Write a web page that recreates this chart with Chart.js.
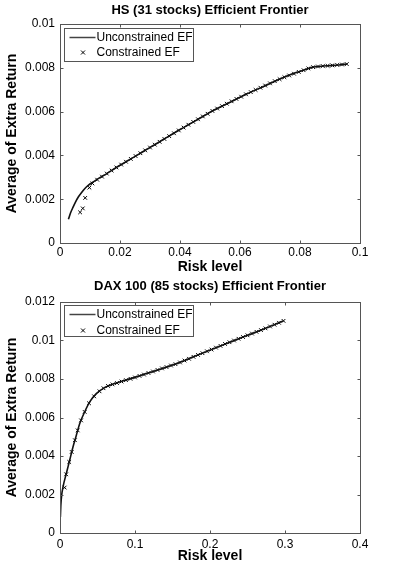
<!DOCTYPE html>
<html><head><meta charset="utf-8">
<script src="https://cdn.jsdelivr.net/npm/chart.js@4.4.1/dist/chart.umd.min.js"></script>
<style>
html,body{margin:0;padding:0;background:#fff;}
#wrap{position:relative;width:396px;height:566px;overflow:hidden;background:#fff;}
canvas{position:absolute;left:0;}
</style></head><body>
<div id="wrap">
<canvas id="c1" width="396" height="280" style="top:0px"></canvas>
<canvas id="c2" width="396" height="286" style="top:280px"></canvas>
</div>
<script>
const FONT = "'Liberation Sans', Arial, Helvetica, sans-serif";
const seriesNames = ['Unconstrained EF', 'Constrained EF'];
const xAxisTitle = 'Risk level';
const yAxisTitle = 'Average of Extra Return';

// ---- HS chart ----
const hsTitle = 'HS (31 stocks) Efficient Frontier';
const hsXTicks = [0, 0.02, 0.04, 0.06, 0.08, 0.1];
const hsXTickLabels = ['0', '0.02', '0.04', '0.06', '0.08', '0.1'];
const hsYTicks = [0, 0.002, 0.004, 0.006, 0.008, 0.01];
const hsYTickLabels = ['0', '0.002', '0.004', '0.006', '0.008', '0.01'];
const hsUnconRisk = [0.0028,0.0035,0.0044,0.0052,0.0061,0.0072,0.0083,0.0095,0.0111,0.0130,0.0156,0.0180,0.0200,0.0230,0.0256,0.0280,0.0311,0.0340,0.0367,0.0400,0.0428,0.0460,0.0511,0.0560,0.0622,0.0680,0.0733,0.0780,0.0822,0.0844,0.0870,0.0900,0.0930,0.0956];
const hsUnconReturn = [0.00108,0.00137,0.00165,0.00188,0.00210,0.00231,0.00249,0.00264,0.00279,0.00296,0.00317,0.00338,0.00355,0.00379,0.00400,0.00420,0.00445,0.00469,0.00491,0.00518,0.00540,0.00565,0.00605,0.00638,0.00680,0.00716,0.00749,0.00775,0.00794,0.00803,0.00807,0.00810,0.00813,0.00817];
const hsConRisk = [0.0067,0.0076,0.0084,0.0098,0.0108,0.0124,0.0140,0.0156,0.0172,0.0188,0.0204,0.0220,0.0236,0.0252,0.0268,0.0284,0.0300,0.0316,0.0332,0.0348,0.0364,0.0380,0.0396,0.0412,0.0428,0.0444,0.0460,0.0476,0.0492,0.0508,0.0524,0.0540,0.0556,0.0572,0.0588,0.0604,0.0620,0.0636,0.0652,0.0668,0.0684,0.0700,0.0716,0.0732,0.0748,0.0764,0.0780,0.0796,0.0812,0.0828,0.0844,0.0860,0.0876,0.0892,0.0908,0.0924,0.0940,0.0956];
const hsConReturn = [0.00140,0.00158,0.00206,0.00253,0.00272,0.00289,0.00303,0.00317,0.00331,0.00345,0.00358,0.00371,0.00384,0.00397,0.00410,0.00423,0.00436,0.00449,0.00462,0.00475,0.00488,0.00501,0.00514,0.00527,0.00540,0.00553,0.00565,0.00578,0.00590,0.00603,0.00614,0.00625,0.00636,0.00647,0.00658,0.00668,0.00679,0.00689,0.00699,0.00709,0.00719,0.00729,0.00739,0.00748,0.00757,0.00765,0.00773,0.00781,0.00789,0.00797,0.00803,0.00806,0.00808,0.00809,0.00811,0.00813,0.00815,0.00817];

// ---- DAX chart ----
const daxTitle = 'DAX 100 (85 stocks) Efficient Frontier';
const daxXTicks = [0, 0.1, 0.2, 0.3, 0.4];
const daxXTickLabels = ['0', '0.1', '0.2', '0.3', '0.4'];
const daxYTicks = [0, 0.002, 0.004, 0.006, 0.008, 0.01, 0.012];
const daxYTickLabels = ['0', '0.002', '0.004', '0.006', '0.008', '0.01', '0.012'];
const daxUnconRisk = [0.0005,0.0012,0.0022,0.0040,0.0084,0.0129,0.0173,0.0218,0.0262,0.0329,0.0396,0.0484,0.0596,0.0729,0.0907,0.1084,0.1262,0.1560,0.1778,0.2000,0.2222,0.2440,0.2667,0.2820,0.2978];
const daxUnconReturn = [0.00083,0.00150,0.00195,0.00239,0.00309,0.00378,0.00447,0.00508,0.00568,0.00629,0.00681,0.00724,0.00755,0.00776,0.00798,0.00819,0.00842,0.00880,0.00915,0.00950,0.00985,0.01018,0.01052,0.01076,0.01102];
const daxConRisk = [0.0062,0.0082,0.0123,0.0156,0.0199,0.0236,0.0281,0.0329,0.0387,0.0455,0.0527,0.058,0.064,0.070,0.076,0.082,0.088,0.094,0.100,0.106,0.112,0.118,0.124,0.130,0.136,0.142,0.148,0.154,0.160,0.166,0.172,0.178,0.184,0.190,0.196,0.202,0.208,0.214,0.220,0.226,0.232,0.238,0.244,0.250,0.256,0.262,0.268,0.274,0.280,0.286,0.292,0.298];
const daxConReturn = [0.00236,0.00305,0.00369,0.00421,0.00482,0.00533,0.00585,0.00629,0.00674,0.00710,0.00736,0.00752,0.00764,0.00772,0.00779,0.00787,0.00794,0.00801,0.00808,0.00816,0.00823,0.00831,0.00839,0.00847,0.00855,0.00862,0.00870,0.00877,0.00886,0.00896,0.00905,0.00915,0.00925,0.00934,0.00944,0.00953,0.00963,0.00972,0.00982,0.00991,0.01000,0.01009,0.01018,0.01027,0.01036,0.01045,0.01054,0.01063,0.01073,0.01082,0.01092,0.01102];

const zip = (xs, ys) => xs.map((x, i) => ({x, y: ys[i]}));

const frameTicks = {
  id: 'frameTicks',
  afterDraw(chart) {
    const {ctx, chartArea: a, scales} = chart;
    const L = Math.round(a.left) + 0.5, R = Math.round(a.right) + 0.5;
    const T = Math.round(a.top) + 0.5, B = Math.round(a.bottom) + 0.5;
    ctx.save();
    ctx.strokeStyle = '#555';
    ctx.lineWidth = 1;
    ctx.strokeRect(L, T, R - L, B - T);
    const len = 3;
    ctx.beginPath();
    scales.x.ticks.forEach(t => {
      const px = Math.round(scales.x.getPixelForValue(t.value)) + 0.5;
      ctx.moveTo(px, B); ctx.lineTo(px, B - len);
      ctx.moveTo(px, T); ctx.lineTo(px, T + len);
    });
    scales.y.ticks.forEach(t => {
      const py = Math.round(scales.y.getPixelForValue(t.value)) + 0.5;
      ctx.moveTo(L, py); ctx.lineTo(L + len, py);
      ctx.moveTo(R, py); ctx.lineTo(R - len, py);
    });
    ctx.stroke();
    ctx.restore();
  }
};

const boxLegend = {
  id: 'boxLegend',
  afterDraw(chart, args, opts) {
    const {ctx, chartArea: a} = chart;
    const ds = chart.data.datasets;
    const bx = Math.round(a.left) + 4.5, by = Math.round(a.top) + opts.dy + 0.5;
    const bw = 129, bh = opts.h;
    ctx.save();
    ctx.fillStyle = '#fff';
    ctx.fillRect(bx, by, bw, bh);
    ctx.strokeStyle = '#555';
    ctx.lineWidth = 1;
    ctx.strokeRect(bx, by, bw, bh);
    const r1 = by + opts.r1, r2 = by + opts.r2;
    ctx.strokeStyle = '#444';
    ctx.lineWidth = 1.5;
    ctx.beginPath(); ctx.moveTo(bx + 5, r1); ctx.lineTo(bx + 31, r1); ctx.stroke();
    ctx.strokeStyle = '#000';
    ctx.lineWidth = 1;
    const mx = bx + 18.5, s = 2;
    ctx.beginPath();
    ctx.moveTo(mx - s, r2 - s); ctx.lineTo(mx + s, r2 + s);
    ctx.moveTo(mx + s, r2 - s); ctx.lineTo(mx - s, r2 + s);
    ctx.stroke();
    ctx.fillStyle = '#000';
    ctx.font = '12px ' + FONT;
    ctx.textBaseline = 'middle';
    ctx.textAlign = 'left';
    ctx.fillText(ds[0].label, bx + 32, r1 + 0.5);
    ctx.fillText(ds[1].label, bx + 32, r2 + 0.5);
    ctx.restore();
  }
};

function makeChart(id, cfg) {
  const mapTicks = (vals) => function (scale) { scale.ticks = vals.map(v => ({value: v})); };
  return new Chart(document.getElementById(id), {
    type: 'scatter',
    data: {
      datasets: [
        {label: seriesNames[0], data: zip(cfg.ux, cfg.uy), showLine: true, pointRadius: 0,
         borderColor: '#111', borderWidth: 1.6, cubicInterpolationMode: 'monotone', fill: false},
        {label: seriesNames[1], data: zip(cfg.cx, cfg.cy), showLine: false, pointStyle: 'crossRot',
         pointRadius: 2.6, borderColor: '#000', backgroundColor: 'rgba(0,0,0,0)', borderWidth: 1}
      ]
    },
    options: {
      responsive: false,
      animation: false,
      events: [],
      layout: {padding: {left: 0, right: 36, top: 0, bottom: 0}},
      plugins: {
        legend: {display: false},
        tooltip: {enabled: false},
        title: {display: true, text: cfg.title, color: '#000', fullSize: false, align: 'center',
          font: {family: FONT, size: 13, weight: 'bold', lineHeight: 1},
          padding: cfg.titlePad},
        boxLegend: cfg.legend
      },
      scales: {
        x: {
          type: 'linear', min: cfg.xTicks[0], max: cfg.xTicks[cfg.xTicks.length - 1],
          afterBuildTicks: mapTicks(cfg.xTicks),
          afterFit: s => { s.height = cfg.xAxisH; },
          grid: {display: false, drawTicks: false},
          border: {display: false},
          ticks: {color: '#000', font: {family: FONT, size: 12}, padding: cfg.xTickPad,
                  maxRotation: 0, autoSkip: false,
                  callback: (v, i) => cfg.xLabels[i]},
          title: {display: true, text: xAxisTitle, color: '#000',
                  font: {family: FONT, size: 14, weight: 'bold', lineHeight: 1.2},
                  padding: {top: 0, bottom: cfg.xTitlePad}}
        },
        y: {
          type: 'linear', min: cfg.yTicks[0], max: cfg.yTicks[cfg.yTicks.length - 1],
          afterBuildTicks: mapTicks(cfg.yTicks),
          afterFit: s => { s.width = 60; },
          grid: {display: false, drawTicks: false},
          border: {display: false},
          ticks: {color: '#000', font: {family: FONT, size: 12}, padding: 5, autoSkip: false,
                  callback: (v, i) => cfg.yLabels[i]},
          title: {display: true, text: yAxisTitle, color: '#000',
                  font: {family: FONT, size: 14, weight: 'bold', lineHeight: 1.2},
                  padding: {top: 4, bottom: 0}}
        }
      }
    },
    plugins: [frameTicks, boxLegend]
  });
}

makeChart('c1', {
  title: hsTitle, titlePad: {top: 3.5, bottom: 7.5},
  xTicks: hsXTicks, xLabels: hsXTickLabels, yTicks: hsYTicks, yLabels: hsYTickLabels,
  ux: hsUnconRisk, uy: hsUnconReturn, cx: hsConRisk, cy: hsConReturn,
  xAxisH: 37, xTickPad: 2, xTitlePad: 4,
  legend: {dy: 4, h: 33, r1: 9, r2: 24}
});
makeChart('c2', {
  title: daxTitle, titlePad: {top: 0, bottom: 9},
  xTicks: daxXTicks, xLabels: daxXTickLabels, yTicks: daxYTicks, yLabels: daxYTickLabels,
  ux: daxUnconRisk, uy: daxUnconReturn, cx: daxConRisk, cy: daxConReturn,
  xAxisH: 33, xTickPad: 4, xTitlePad: 1,
  legend: {dy: 3, h: 31, r1: 9, r2: 25}
});
</script>
</body></html>
